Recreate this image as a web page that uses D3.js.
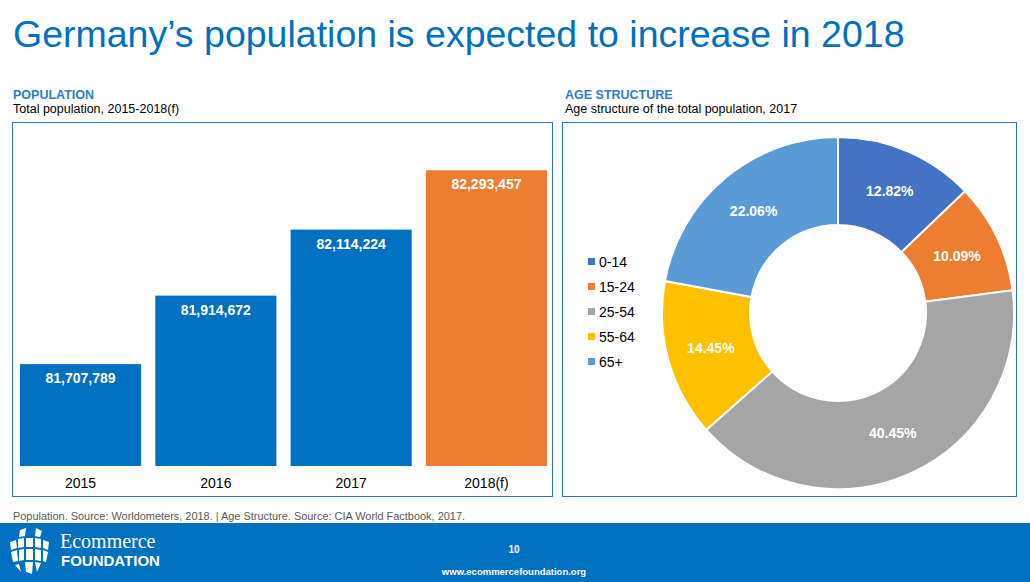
<!DOCTYPE html>
<html>
<head>
<meta charset="utf-8">
<script src="https://cdn.jsdelivr.net/npm/d3@7"></script>
<style>
  body { margin: 0; background: #fff; }
  svg { display: block; font-family: "Liberation Sans", Arial, sans-serif; }
</style>
</head>
<body>
<div id="chart"></div>
<script>
// Population data (bar chart)
const years = ["2015", "2016", "2017", "2018(f)"];
const population = [81707789, 81914672, 82114224, 82293457];

// Age structure data (donut)
const ageGroups = ["0-14", "15-24", "25-54", "55-64", "65+"];
const agePct = [12.82, 10.09, 40.45, 14.45, 22.06];
const ageColors = ["#4472c4", "#ed7d31", "#a5a5a5", "#ffc000", "#5b9bd5"];

const W = 1030, H = 582;
const blue = "#0070c0";

const svg = d3.select("#chart").append("svg")
    .attr("width", W)
    .attr("height", H);

// Title
svg.append("text")
    .attr("x", 13)
    .attr("y", 47)
    .style("font-size", "37.5px")
    .style("fill", blue)
    .text("Germany\u2019s population is expected to increase in 2018");

// Panel headers
function header(x, title, sub) {
    svg.append("text")
        .attr("x", x).attr("y", 99)
        .style("font-size", "12.5px")
        .style("font-weight", "bold")
        .style("fill", "#2e7dc4")
        .text(title);
    svg.append("text")
        .attr("x", x).attr("y", 113)
        .style("font-size", "12.5px")
        .style("fill", "#000")
        .text(sub);
}
header(13, "POPULATION", "Total population, 2015-2018(f)");
header(565, "AGE STRUCTURE", "Age structure of the total population, 2017");

// Panel boxes
svg.append("rect")
    .attr("x", 12.5).attr("y", 122.5)
    .attr("width", 540).attr("height", 374)
    .attr("fill", "none").attr("stroke", "#2e75b6").attr("stroke-width", 1);
svg.append("rect")
    .attr("x", 562.5).attr("y", 122.5)
    .attr("width", 454).attr("height", 374)
    .attr("fill", "none").attr("stroke", "#2e75b6").attr("stroke-width", 1);

// ---- Bar chart ----
const x = d3.scaleBand()
    .domain(years)
    .range([20, 547])
    .paddingInner(0.105)
    .paddingOuter(0);

const y = d3.scaleLinear()
    .domain([81400000, 82400000])
    .range([466, 135]);

const barG = svg.append("g");

barG.selectAll(".bar")
    .data(years)
    .join("rect")
    .attr("class", "bar")
    .attr("x", d => x(d))
    .attr("y", (d, i) => y(population[i]))
    .attr("width", x.bandwidth())
    .attr("height", (d, i) => y.range()[0] - y(population[i]))
    .attr("fill", (d, i) => i === years.length - 1 ? "#ed7d31" : blue);

barG.selectAll(".bar-label")
    .data(years)
    .join("text")
    .attr("class", "bar-label")
    .attr("x", d => x(d) + x.bandwidth() / 2)
    .attr("y", (d, i) => y(population[i]) + 19)
    .attr("text-anchor", "middle")
    .style("font-size", "14px")
    .style("font-weight", "bold")
    .style("fill", "#fff")
    .text((d, i) => d3.format(",")(population[i]));

const xAxis = barG.append("g")
    .attr("transform", `translate(0,466)`)
    .call(d3.axisBottom(x).tickSize(0).tickPadding(12));
xAxis.select(".domain").remove();
xAxis.selectAll("text")
    .style("font-family", "'Liberation Sans', Arial, sans-serif")
    .style("font-size", "14px")
    .style("fill", "#000");

// ---- Donut ----
const cx = 838, cy = 313;
const rOuter = 176, rInner = 88;

const pie = d3.pie().sort(null).value(d => d);
const arcs = pie(agePct);
const arc = d3.arc().innerRadius(rInner).outerRadius(rOuter);
const labelArc = d3.arc().innerRadius(132).outerRadius(132);

const pieG = svg.append("g").attr("transform", `translate(${cx},${cy})`);

pieG.selectAll(".slice")
    .data(arcs)
    .join("path")
    .attr("class", "slice")
    .attr("d", arc)
    .attr("fill", (d, i) => ageColors[i])
    .attr("stroke", "#fff")
    .attr("stroke-width", 2);

pieG.selectAll(".slice-label")
    .data(arcs)
    .join("text")
    .attr("class", "slice-label")
    .attr("transform", d => `translate(${labelArc.centroid(d)})`)
    .attr("text-anchor", "middle")
    .attr("dy", "0.35em")
    .style("font-size", "14px")
    .style("font-weight", "bold")
    .style("fill", "#fff")
    .text(d => d3.format(".2f")(d.data) + "%");

// Legend
const legend = svg.append("g").attr("transform", "translate(588,262)");
const li = legend.selectAll("g")
    .data(ageGroups)
    .join("g")
    .attr("transform", (d, i) => `translate(0,${i * 25})`);
li.append("rect")
    .attr("x", 0).attr("y", -4)
    .attr("width", 7).attr("height", 7)
    .attr("fill", (d, i) => ageColors[i]);
li.append("text")
    .attr("x", 11).attr("y", 0)
    .attr("dy", "0.35em")
    .style("font-size", "14px")
    .style("fill", "#000")
    .text(d => d);

// Source note
svg.append("text")
    .attr("x", 13).attr("y", 520)
    .style("font-size", "10px")
    .style("fill", "#595959")
    .attr("textLength", 452)
    .attr("lengthAdjust", "spacingAndGlyphs")
    .text("Population. Source: Worldometers, 2018. | Age Structure. Source: CIA World Factbook, 2017.");

// ---- Footer ----
svg.append("rect")
    .attr("x", 0).attr("y", 523)
    .attr("width", W).attr("height", H - 523)
    .attr("fill", blue);

// logo mark: rough globe built from white tiles
const logo = svg.append("g").attr("transform", "translate(8,528)").attr("fill", "#fff");
const tiles = [
    "M2,14 L8,12 L9,20 L3,22 Z",
    "M10,11 L16,10 L16,19 L10,20 Z",
    "M18,10 L25,10 L25,19 L18,19 Z",
    "M27,10 L33,11 L33,20 L27,19 Z",
    "M35,12 L41,14 L40,22 L35,20 Z",
    "M3,24 L9,22 L10,33 L5,34 Z",
    "M11,22 L16,21 L16,32 L11,33 Z",
    "M18,21 L25,21 L25,32 L18,32 Z",
    "M27,21 L33,22 L33,33 L27,32 Z",
    "M35,22 L40,24 L38,34 L35,33 Z",
    "M7,37 L11,36 L13,44 Z",
    "M17,34 L25,34 L24,46 L18,44 Z",
    "M27,34 L33,35 L29,44 Z",
    "M12,2 L18,0 L17,8 L11,9 Z",
    "M28,0 L34,3 L32,9 L27,8 Z"
];
logo.selectAll("path")
    .data(tiles)
    .join("path")
    .attr("d", d => d);

svg.append("text")
    .attr("x", 60).attr("y", 548)
    .style("font-family", "'Liberation Serif', 'Times New Roman', serif")
    .style("font-size", "20px")
    .style("fill", "#fff")
    .text("Ecommerce");
svg.append("text")
    .attr("x", 61).attr("y", 566)
    .style("font-size", "15px")
    .style("font-weight", "bold")
    .style("fill", "#fff")
    .text("FOUNDATION");

svg.append("text")
    .attr("x", 514).attr("y", 553)
    .attr("text-anchor", "middle")
    .style("font-size", "10px")
    .style("font-weight", "bold")
    .style("fill", "#fff")
    .text("10");
svg.append("text")
    .attr("x", 514).attr("y", 575)
    .attr("text-anchor", "middle")
    .style("font-size", "9.5px")
    .style("font-weight", "bold")
    .style("fill", "#fff")
    .text("www.ecommercefoundation.org");
</script>
</body>
</html>
